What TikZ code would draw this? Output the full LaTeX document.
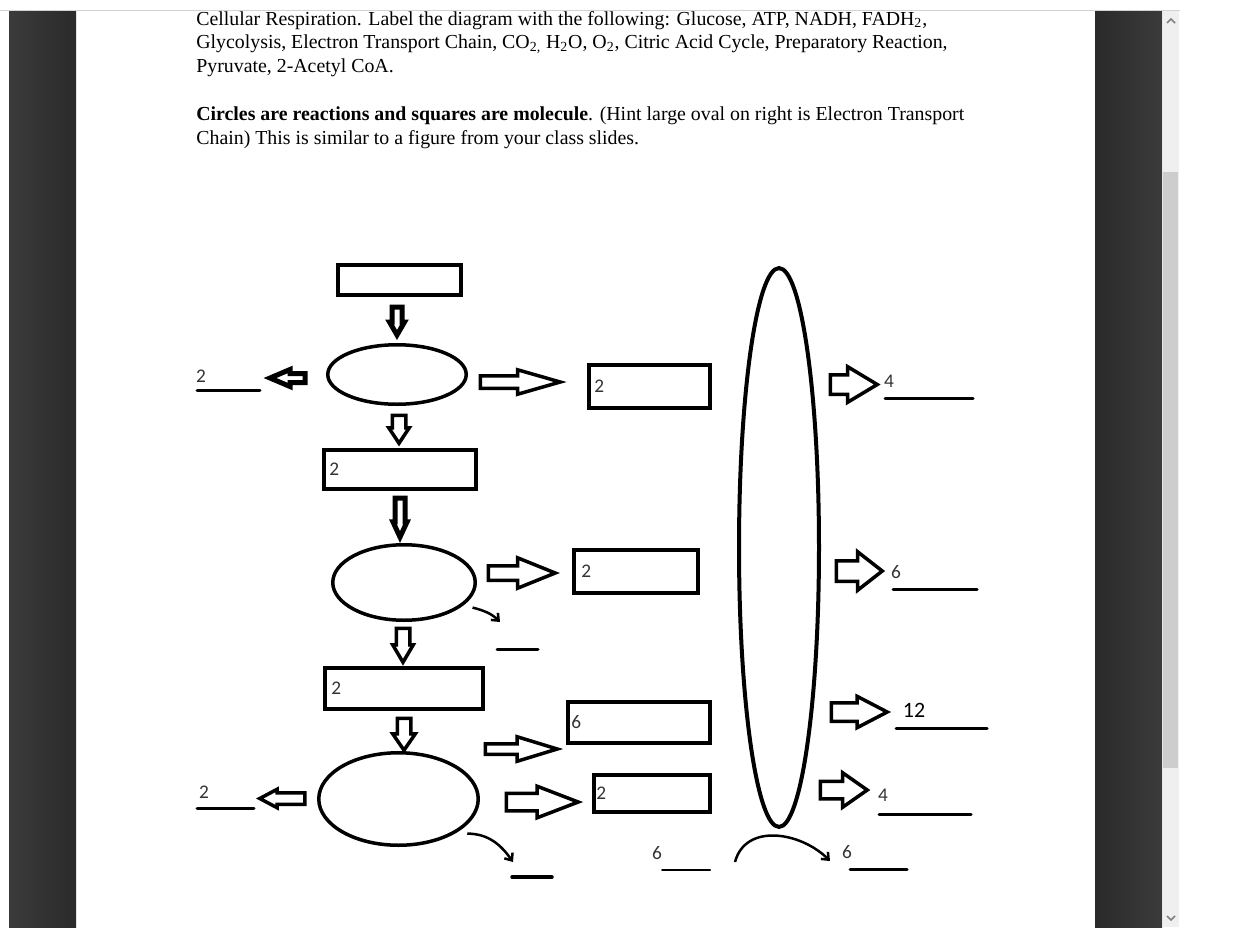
\documentclass[tikz,border=0pt]{standalone}
\usepackage{fontspec}
\setmainfont{Liberation Serif}
\newfontfamily\numfont{Carlito}
\usetikzlibrary{shapes.geometric,shapes.arrows,arrows.meta,positioning}
\definecolor{barcol}{HTML}{3B3B3B}
\definecolor{bardark}{HTML}{2A2A2A}
\definecolor{trackcol}{HTML}{EFEFEF}
\definecolor{thumbcol}{HTML}{CDCDCD}
\definecolor{numcol}{HTML}{333333}
\begin{document}
\begin{tikzpicture}[x=0.02cm,y=-0.02cm,
    molbox/.style={draw,rectangle,line width=0.08cm,inner sep=0pt},
    reac/.style={draw,ellipse,line width=0.07cm,inner sep=0pt},
    blk/.style n args={3}{draw,single arrow,line width=0.07cm,inner sep=#1,
      single arrow head extend=#2,single arrow tip angle=#3,anchor=tail},
    num/.style={font=\numfont\fontsize{11}{13}\selectfont,text=numcol,inner sep=0pt},
    head/.style={font=\fontsize{11.3}{13}\selectfont,inner sep=0pt,anchor=base west},
    blank/.style={line width=0.06cm,line cap=round},
    curv/.style={line width=0.05cm,-{Straight Barb[length=0.12cm,width=0.2cm]}}]
  \useasboundingbox (0,0) rectangle (1247,927);
  % Ventana del visor
  \fill[white] (0,0) rectangle (1247,927);
  \draw[gray!35,line width=0.02cm] (0,10) -- (1180,10);
  \shade[left color=barcol,right color=bardark] (9,11) rectangle (76,927);
  \shade[left color=bardark,right color=barcol] (1095,11) rectangle (1162,927);
  \fill[trackcol] (1163,11) rectangle (1179,927);
  \fill[thumbcol] (1163,172) rectangle (1178,768);
  \draw[gray,line width=0.03cm] (1167,23) -- (1171,19) -- (1175,23);
  \draw[gray,line width=0.03cm] (1167,916) -- (1171,920) -- (1175,916);
  % Enunciado
  \node[head] (t1) at (196,25) {Cellular Respiration. Label the diagram with the following: Glucose, ATP, NADH, FADH\textsubscript{2},};
  \node[head] (t2) at (196,48.5) {Glycolysis, Electron Transport Chain, CO\textsubscript{2,} H\textsubscript{2}O, O\textsubscript{2}, Citric Acid Cycle, Preparatory Reaction,};
  \node[head] (t3) at (196,72) {Pyruvate, 2-Acetyl CoA.};
  \node[head] (t4) at (196,120.5) {\textbf{Circles are reactions and squares are molecule}. (Hint large oval on right is Electron Transport};
  \node[head] (t5) at (196,144) {Chain) This is similar to a figure from your class slides.};
  % Moleculas
  \node[molbox,minimum width=2.46cm,minimum height=0.60cm] (r1) at (399.5,280) {};
  \node[molbox,minimum width=2.42cm,minimum height=0.86cm] (r2) at (649.5,386.5) {};
  \node[molbox,minimum width=3.04cm,minimum height=0.78cm] (r3) at (400,469.5) {};
  \node[molbox,minimum width=2.48cm,minimum height=0.86cm] (r4) at (636,571.5) {};
  \node[molbox,minimum width=3.16cm,minimum height=0.82cm] (r5) at (404,688.5) {};
  \node[molbox,minimum width=2.84cm,minimum height=0.82cm] (r6) at (639,722.5) {};
  \node[molbox,minimum width=2.32cm,minimum height=0.74cm] (r7) at (652,793.5) {};
  \node[num,right=0.14cm of r2.west] (r2n) {2};
  \node[num,right=0.14cm of r3.west] (r3n) {2};
  \node[num,right=0.18cm of r4.west] (r4n) {2};
  \node[num,right=0.16cm of r5.west] (r5n) {2};
  \node[num,right=0.10cm of r6.west] (r6n) {6};
  \node[num,right=0.08cm of r7.west] (r7n) {2};
  % Reacciones
  \node[reac,minimum width=2.77cm,minimum height=1.19cm] (e1) at (397,374.5) {};
  \node[reac,minimum width=2.85cm,minimum height=1.51cm] (e2) at (404,582.5) {};
  \node[reac,minimum width=3.19cm,minimum height=1.85cm] (e3) at (398.5,799) {};
  \node[reac,line width=0.08cm,minimum width=1.6cm,minimum height=11.18cm] (etc) at (779,547.5) {};
  % Flechas verticales
  \node[blk={0.05cm}{0.05cm}{60},line width=0.1cm,minimum height=0.56cm,rotate=-90] (da1) at (397,304.5) {};
  \node[blk={0.1cm}{0.07cm}{67},minimum height=0.56cm,rotate=-90] (da2) at (399,413.5) {};
  \node[blk={0.05cm}{0.04cm}{50},line width=0.1cm,minimum height=0.78cm,rotate=-90] (da3) at (400,495.5) {};
  \node[blk={0.1cm}{0.07cm}{61},minimum height=0.68cm,rotate=-90] (da4) at (403,626.5) {};
  \node[blk={0.1cm}{0.09cm}{69},minimum height=0.64cm,rotate=-90] (da5) at (404,716.5) {};
  % Flechas laterales
  \node[blk={0.04cm}{0.08cm}{46},line width=0.1cm,minimum height=0.7cm,rotate=180] (la1) at (307.5,378) {};
  \node[blk={0.08cm}{0.07cm}{56},minimum height=0.9cm,rotate=180] (la2) at (306.5,798.5) {};
  \node[blk={0.09cm}{0.12cm}{32},minimum height=1.6cm] (ra1) at (478.5,382) {};
  \node[blk={0.11cm}{0.16cm}{44},minimum height=1.34cm] (ra2) at (486.5,573) {};
  \node[blk={0.07cm}{0.14cm}{34},minimum height=1.44cm] (ra3) at (483.5,749) {};
  \node[blk={0.14cm}{0.14cm}{42},minimum height=1.44cm] (ra4) at (504.5,802) {};
  % Cadena de transporte
  \node[blk={0.16cm}{0.16cm}{62},minimum height=0.94cm] (a1) at (828.5,384.5) {};
  \node[blk={0.17cm}{0.18cm}{76},minimum height=0.92cm] (a2) at (834.5,571) {};
  \node[blk={0.15cm}{0.13cm}{55},minimum height=1.12cm] (a3) at (829.5,712) {};
  \node[blk={0.14cm}{0.17cm}{70},minimum height=0.94cm] (a4) at (818.5,790) {};
  % Espacios para responder
  \node[num] (n1) at (201,376) {2};
  \draw[blank] (197,390) -- (260,390);
  \node[num] (n2) at (204,792) {2};
  \draw[blank] (197,808) -- (254,808);
  \node[num] (n3) at (889,381) {4};
  \draw[blank] (885,398) -- (973,398);
  \node[num] (n4) at (896,572) {6};
  \draw[blank] (893,589) -- (977,589);
  \node[num,text=black,font=\numfont\fontsize{12.5}{14}\selectfont] (n5) at (914,710) {12};
  \draw[blank] (896,728) -- (987,728);
  \node[num] (n6) at (883,795) {4};
  \draw[blank] (879,814) -- (971,814);
  \node[num] (n7) at (847,852) {6};
  \draw[blank] (850,869) -- (907,869);
  \node[num] (n8) at (657,853) {6};
  \draw[blank,line width=0.04cm] (662,870) -- (710,870);
  \draw[blank] (497,649) -- (538,649);
  \draw[blank,line width=0.07cm] (512,877) -- (552,877);
  % Flechas curvas
  \coordinate (c1) at (500,622);
  \coordinate (c2) at (513,862);
  \coordinate (c3a) at (735,862);
  \coordinate (c3b) at (830,861);
  \draw[curv] ([shift={(8,3)}]e2.-20) to[out=-15,in=135] (c1);
  \draw[curv] ([shift={(6,4)}]e3.-26) to[out=0,in=125] (c2);
  \draw[curv] (c3a) to[out=75,in=135,looseness=1.1] (c3b);
\end{tikzpicture}
\end{document}
